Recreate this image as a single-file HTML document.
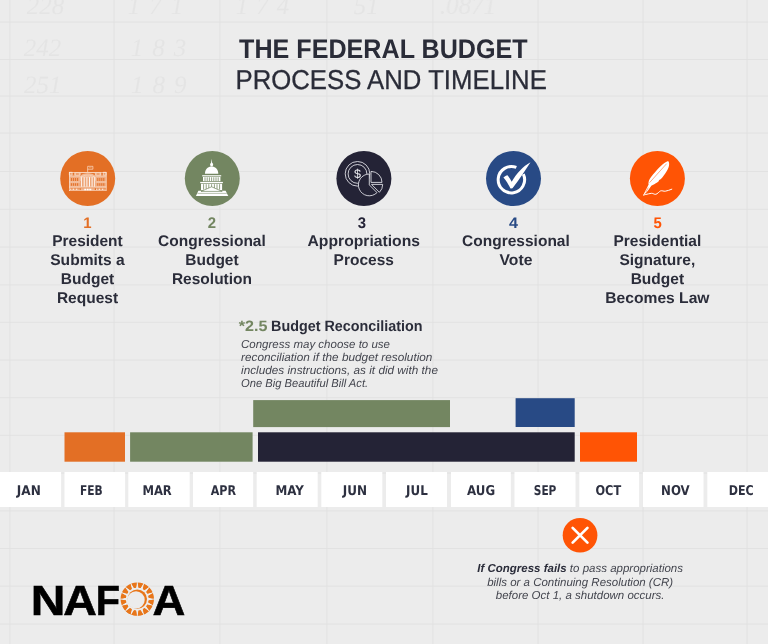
<!DOCTYPE html>
<html lang="en">
<head>
<meta charset="utf-8">
<title>The Federal Budget Process and Timeline</title>
<style>
html,body{margin:0;padding:0;background:#ececec;}
body{width:768px;height:644px;overflow:hidden;position:relative;font-family:"Liberation Sans",sans-serif;}
svg{position:absolute;left:0;top:0;display:block;}
text{font-family:"Liberation Sans",sans-serif;}
text:not([transform]){transform:matrix(1,0,0.0005,1,-0.16,0);}
.b{font-weight:bold;}
.i{font-style:italic;}
.lbl{font-weight:bold;font-size:15.5px;fill:#2b2d3a;text-anchor:middle;}
.num{font-weight:bold;font-size:15.3px;text-anchor:middle;}
.mon{font-family:"DejaVu Sans Condensed","DejaVu Sans","Liberation Sans",sans-serif;font-weight:bold;font-size:13.5px;fill:#2d3040;text-anchor:middle;}
#hand text{font-family:"Liberation Serif","DejaVu Serif",serif;font-style:italic;}
.note{font-style:italic;font-size:11.5px;fill:#44464f;}
</style>
</head>
<body>
<svg width="768" height="644" viewBox="0 0 768 644">
<rect width="768" height="644" fill="#ececec"/>
<!-- ledger grid -->
<g id="grid" stroke="#e0e0e0" stroke-width="0.8" fill="none">
<path d="M9.8 0V644M114.0 0V644M219.8 0V644M326.8 0V644M432.8 0V644M538.0 0V644M643.0 0V644M747.0 0V644"/>
<path d="M0 22.0H768M0 59.5H768M0 96.0H768M0 133.0H768M0 171.5H768M0 209.3H768M0 247.0H768M0 284.8H768M0 322.4H768M0 360.0H768M0 397.7H768M0 435.4H768M0 473.0H768M0 510.8H768M0 548.5H768M0 586.2H768M0 624.0H768"/>
</g>

<!-- faint ledger handwriting in the background -->
<g id="hand" font-size="25" fill="#e3e3e3" opacity="0.800">
<text x="27" y="14">228</text><text x="24" y="56">242</text><text x="24" y="93">251</text>
<text x="128" y="14" letter-spacing="9">171</text><text x="131" y="56" letter-spacing="9">183</text><text x="131" y="93" letter-spacing="9">189</text>
<text x="236" y="14" letter-spacing="8">174</text><text x="354" y="14">51</text><text x="440" y="14">.0871</text>
</g>

<!-- title -->
<text x="383.500" y="57.800" class="b" font-size="26.800" fill="#2a2c38" text-anchor="middle" textLength="288.600" lengthAdjust="spacingAndGlyphs">THE FEDERAL BUDGET</text>
<text x="391.300" y="88.800" font-size="27.200" fill="#2a2c38" stroke="#2a2c38" stroke-width="0.300" text-anchor="middle" textLength="311.400" lengthAdjust="spacingAndGlyphs">PROCESS AND TIMELINE</text>

<!-- icon circles -->
<circle cx="87.700" cy="178.500" r="27.500" fill="#e36f25"/>
<circle cx="212.300" cy="178.500" r="27.500" fill="#738661"/>
<circle cx="363.900" cy="178.500" r="27.500" fill="#242336"/>
<circle cx="513.500" cy="178.500" r="27.500" fill="#284a85"/>
<circle cx="657.400" cy="178.500" r="27.500" fill="#ff5405"/>


<!-- icon 1: white house -->
<g id="ic1">
<path d="M87.660 172V166.300H92.900V169.200H87.660" fill="none" stroke="#fff1e6" stroke-width="0.600"/>
<path d="M89 167.700H91.600" stroke="#fff1e6" stroke-width="0.500" opacity="0.700"/>
<!-- wings body -->
<rect x="69.300" y="176.300" width="10.700" height="11" fill="#ffffff" fill-opacity="0.420"/>
<rect x="95.500" y="176.300" width="10.700" height="11" fill="#ffffff" fill-opacity="0.420"/>
<path d="M71.00 178.10h1.10v2.80h-1.10zM73.00 178.10h1.10v2.80h-1.10zM75.00 178.10h1.10v2.80h-1.10zM77.00 178.10h1.10v2.80h-1.10zM71.00 183.20h1.10v2.60h-1.10zM73.00 183.20h1.10v2.60h-1.10zM75.00 183.20h1.10v2.60h-1.10zM77.00 183.20h1.10v2.60h-1.10zM97.20 178.10h1.10v2.80h-1.10zM99.20 178.10h1.10v2.80h-1.10zM101.20 178.10h1.10v2.80h-1.10zM103.20 178.10h1.10v2.80h-1.10zM97.20 183.20h1.10v2.60h-1.10zM99.20 183.20h1.10v2.60h-1.10zM101.20 183.20h1.10v2.60h-1.10zM103.20 183.20h1.10v2.60h-1.10z" fill="#e36f25" fill-opacity="0.900"/>
<!-- outline -->
<rect x="69.300" y="172.300" width="36.900" height="18.400" fill="none" stroke="#fff1e6" stroke-width="0.600"/>
<path d="M69.300 175.300H80.300M95.200 175.300H106.200M69.300 176.600H80M95.500 176.600H106.200M69.300 182H80M95.500 182H106.200M69.300 186.900H106.200M69.300 187.700H106.200" fill="none" stroke="#fff1e6" stroke-width="0.500"/>
<path d="M80.300 172.700H95.200" fill="none" stroke="#fff1e6" stroke-width="0.500"/>
<!-- towers -->
<path d="M69.300 172.200h3v3.100h-3zM74.600 172.700h5.700v2.600h-5.700zM95.200 172.700h5.800v2.600h-5.800zM103.200 172.200h3v3.100h-3z" fill="#ffffff" fill-opacity="0.550" stroke="#fff1e6" stroke-width="0.400"/>
<path d="M70.300 173.200h1v1.300h-1zM76 173.500h2.800v1.100H76zM96.700 173.500h2.800v1.100h-2.800zM104.200 173.200h1v1.300h-1z" fill="#e36f25" fill-opacity="0.800"/>
<!-- portico -->
<path d="M80.200 176.400C82.800 172.900 92.700 172.900 95.300 176.400V187H80.200Z" fill="#ffffff" fill-opacity="0.380"/>
<path d="M80.400 176.200C83 173 92.500 173 95.100 176.200M81.200 176.700C84 174.700 91.500 174.700 94.300 176.700" fill="none" stroke="#fff1e6" stroke-width="0.550"/>
<path d="M80.200 176.900H95.300" stroke="#fff1e6" stroke-width="0.600"/>
<path d="M81.400 177.200V186.700M84.200 177.200V186.700M86.900 177.200V186.700M89.500 177.200V186.700M92.100 177.200V186.700M94.700 177.200V186.700" stroke="#ffffff" stroke-width="0.900" fill="none"/>
<path d="M80.200 180.800V176.600M95.300 180.800V176.600" stroke="#fff1e6" stroke-width="0.500"/>
<!-- base -->
<path d="M70.200 189.200H79.400M96.200 189.200H105.400" stroke="#fff1e6" stroke-width="1.500" stroke-dasharray="0.900 0.550" fill="none"/>
<path d="M80.700 189.200H94.800" stroke="#ffffff" stroke-opacity="0.500" stroke-width="1.800" fill="none"/>
<path d="M84.300 189.400H86.300M87 189.400H88.600M89.300 189.400H91.300" stroke="#ffffff" stroke-width="1.500" fill="none"/>
</g>

<!-- icon 2: capitol -->
<g id="ic2" fill="#ffffff">
<path d="M211.600 158.700L212.200 163.200H211Z"/>
<ellipse cx="211.600" cy="164.600" rx="1.500" ry="1.900"/>
<path d="M204.900 173.700C205.200 164.200 218 164.200 218.300 173.700Z"/>
<path d="M202.200 175.200H221.200V176.400H202.200Z"/>
<path d="M203 177H220.400V181.200H203Z"/>
<path d="M200.200 181.900H222.900V183.200H200.200Z"/>
<path d="M201 183.800H222.100V190H201Z"/>
<path d="M198.400 190.700H225.600L228.300 196H195.900Z"/>
</g>
<g id="ic2d" stroke="#738661" stroke-width="0.800" fill="none">
<path d="M205 177.300V181.200M207.200 177.300V181.200M209.400 177.300V181.200M211.600 177.300V181.200M213.800 177.300V181.200M216 177.300V181.200M218.200 177.300V181.200"/>
<path d="M203.600 184.200V189.600M206.200 184.200V189.600M208.800 184.200V189.600M211.600 184.200V189.600M214.400 184.200V189.600M217 184.200V189.600M219.600 184.200V189.600"/>
<path d="M201 191.400L211.600 186.800L222.200 191.400Z" stroke-width="0.700" fill="#ffffff"/>
<path d="M197.500 193.400H226.800" stroke-width="0.500"/>
</g>

<!-- icon 3: coin and pie -->
<g id="ic3" fill="none" stroke="#e9e9ee" stroke-width="0.850">
<circle cx="357.500" cy="173.800" r="12.300"/>
<circle cx="357.500" cy="173.900" r="9.400"/>
<path d="M369.300 174V184.900L377 192.600A10.900 10.900 0 1 1 369.300 174Z" fill="#242336"/>
<path d="M371 171.400A11 11 0 0 1 382 182.400H371Z" fill="#242336"/>
<path d="M371.500 184.400H382.700A11.200 11.200 0 0 1 379.400 192.300Z" fill="#242336"/>
</g>
<text x="357.500" y="178.100" font-size="12.500" fill="#e9e9ee" text-anchor="middle">$</text>

<!-- icon 4: check -->
<g id="ic4">
<path d="M523.360 174.120A13.200 13.200 0 1 1 516.350 167.460" fill="none" stroke="#ffffff" stroke-width="3"/>
<path d="M503.400 177.500C504.800 176.300 506.200 175.500 507.500 175.300C509.200 177.300 510.600 179.500 511.700 181.700C516.500 173.500 523 166.200 530.500 162.200C525.500 169.500 519.500 179.300 512.500 188.300C511.700 188.500 511 188.500 510.300 188.200C508.500 184.400 506.200 180.600 503.400 177.500Z" fill="#ffffff"/>
</g>

<!-- icon 5: quill -->
<g id="ic5" fill="#ffffff">
<path d="M668.100 160.900C669.600 162.300 669.300 165.200 668.600 167.200C667.700 169.600 666 172.600 663.600 175.800C662.600 177.200 661.600 178.300 660.600 179.200L659.200 179.900L658.500 181.600C657.600 182.400 656.700 182.900 655.800 183.300C654.800 184 653.800 184.600 652.700 185L651.300 185.700C649.500 188.700 646.800 192.500 643.100 195.400C644.800 192 646.900 188 648.600 184.400C648.300 183.500 648.400 182.800 648.600 182C648.700 180.800 649.300 179.700 650 178.600C650.900 177.200 651.900 175.900 653 174.500C654.300 172.900 655.700 171.300 657.100 169.700C658.700 168 660.300 166.400 661.900 164.900C663.400 163.600 665 162 668.100 160.900Z"/>
<path d="M649.600 182.600L666.600 163.700" fill="none" stroke="#ff5405" stroke-width="0.500"/>
<path d="M648.300 187.500L645.800 192.200" fill="none" stroke="#ff5405" stroke-width="0.500"/>
<path d="M643.500 195.100C645 194.700 646.700 194.200 648.300 193.900C649.500 193.700 650.600 193.300 651.700 193.300C653.200 193.300 654.400 194.600 655.800 194.300C657.600 193.900 659 191.600 660.600 190.900C662.100 190.300 663.700 191.500 665.300 191.200C667.500 190.800 669.700 190 671.800 189.200" fill="none" stroke="#ffffff" stroke-width="1" stroke-linecap="round"/>
</g>

<!-- numbers -->
<text x="87.500" y="228" class="num" fill="#e36f25" textLength="8.3" lengthAdjust="spacingAndGlyphs">1</text>
<text x="212" y="228" class="num" fill="#738661" textLength="8.3" lengthAdjust="spacingAndGlyphs">2</text>
<text x="362" y="228" class="num" fill="#242336" textLength="8.3" lengthAdjust="spacingAndGlyphs">3</text>
<text x="513.500" y="228" class="num" fill="#284a85" textLength="9.0" lengthAdjust="spacingAndGlyphs">4</text>
<text x="657.800" y="228" class="num" fill="#ff5405" textLength="8.3" lengthAdjust="spacingAndGlyphs">5</text>

<!-- labels -->
<text x="87.500" y="246.300" class="lbl" textLength="70.6" lengthAdjust="spacingAndGlyphs">President</text>
<text x="87.500" y="265.200" class="lbl" textLength="74.5" lengthAdjust="spacingAndGlyphs">Submits a</text>
<text x="87.500" y="284" class="lbl" textLength="53.4" lengthAdjust="spacingAndGlyphs">Budget</text>
<text x="87.500" y="302.900" class="lbl" textLength="61.2" lengthAdjust="spacingAndGlyphs">Request</text>

<text x="212" y="246.300" class="lbl" textLength="107.7" lengthAdjust="spacingAndGlyphs">Congressional</text>
<text x="212" y="265.200" class="lbl" textLength="53.4" lengthAdjust="spacingAndGlyphs">Budget</text>
<text x="212" y="284" class="lbl" textLength="80.1" lengthAdjust="spacingAndGlyphs">Resolution</text>

<text x="363.800" y="246.300" class="lbl" textLength="112.5" lengthAdjust="spacingAndGlyphs">Appropriations</text>
<text x="363.800" y="265.200" class="lbl" textLength="60.3" lengthAdjust="spacingAndGlyphs">Process</text>

<text x="516" y="246.300" class="lbl" textLength="107.7" lengthAdjust="spacingAndGlyphs">Congressional</text>
<text x="516" y="265.200" class="lbl" textLength="32.8" lengthAdjust="spacingAndGlyphs">Vote</text>

<text x="657.400" y="246.300" class="lbl" textLength="87.9" lengthAdjust="spacingAndGlyphs">Presidential</text>
<text x="657.400" y="265.200" class="lbl" textLength="75.8" lengthAdjust="spacingAndGlyphs">Signature,</text>
<text x="657.400" y="284" class="lbl" textLength="53.4" lengthAdjust="spacingAndGlyphs">Budget</text>
<text x="657.400" y="302.900" class="lbl" textLength="104.3" lengthAdjust="spacingAndGlyphs">Becomes Law</text>

<!-- reconciliation -->
<text x="238.800" y="331.100" class="b" font-size="15" fill="#738661" textLength="28.700" lengthAdjust="spacingAndGlyphs">*2.5</text>
<text x="271" y="331.100" class="b" font-size="15" fill="#2b2d3a" textLength="151.600" lengthAdjust="spacingAndGlyphs">Budget Reconciliation</text>
<text x="241" y="348.400" class="note" textLength="149.0" lengthAdjust="spacingAndGlyphs">Congress may choose to use</text>
<text x="241" y="361.300" class="note" textLength="191.4" lengthAdjust="spacingAndGlyphs">reconciliation if the budget resolution</text>
<text x="241" y="374.300" class="note" textLength="196.9" lengthAdjust="spacingAndGlyphs">includes instructions, as it did with the</text>
<text x="241" y="387.200" class="note" textLength="127.1" lengthAdjust="spacingAndGlyphs">One Big Beautiful Bill Act.</text>

<!-- bars -->
<rect x="64.500" y="432.300" width="60.500" height="29.400" fill="#e36f25"/>
<rect x="130.100" y="432.300" width="122.500" height="29.400" fill="#738661"/>
<rect x="253.200" y="400.100" width="196.800" height="27" fill="#738661"/>
<rect x="258" y="432.300" width="316.700" height="29.400" fill="#242336"/>
<rect x="515.600" y="398.200" width="59.100" height="28.800" fill="#284a85"/>
<rect x="580" y="432.300" width="57" height="29.400" fill="#ff5405"/>

<!-- months -->
<g fill="#ffffff">
<rect x="0" y="472" width="61.100" height="35"/>
<rect x="64.500" y="472" width="60.600" height="35"/>
<rect x="128.300" y="472" width="61.400" height="35"/>
<rect x="193" y="472" width="60.200" height="35"/>
<rect x="256.700" y="472" width="61" height="35"/>
<rect x="321.300" y="472" width="61" height="35"/>
<rect x="386" y="472" width="61" height="35"/>
<rect x="451" y="472" width="59.800" height="35"/>
<rect x="514.500" y="472" width="61" height="35"/>
<rect x="579.300" y="472" width="59.800" height="35"/>
<rect x="642.800" y="472" width="60.700" height="35"/>
<rect x="707.300" y="472" width="61" height="35"/>
</g>
<text x="28.7" y="495" class="mon" textLength="24.0" lengthAdjust="spacingAndGlyphs">JAN</text>
<text x="91.3" y="495" class="mon" textLength="22.7" lengthAdjust="spacingAndGlyphs">FEB</text>
<text x="157.0" y="495" class="mon" textLength="29.4" lengthAdjust="spacingAndGlyphs">MAR</text>
<text x="223.3" y="495" class="mon" textLength="25.3" lengthAdjust="spacingAndGlyphs">APR</text>
<text x="289.5" y="495" class="mon" textLength="28.4" lengthAdjust="spacingAndGlyphs">MAY</text>
<text x="354.8" y="495" class="mon" textLength="24.3" lengthAdjust="spacingAndGlyphs">JUN</text>
<text x="416.8" y="495" class="mon" textLength="21.7" lengthAdjust="spacingAndGlyphs">JUL</text>
<text x="481.0" y="495" class="mon" textLength="28.0" lengthAdjust="spacingAndGlyphs">AUG</text>
<text x="545.0" y="495" class="mon" textLength="22.6" lengthAdjust="spacingAndGlyphs">SEP</text>
<text x="608.2" y="495" class="mon" textLength="25.7" lengthAdjust="spacingAndGlyphs">OCT</text>
<text x="675.3" y="495" class="mon" textLength="28.7" lengthAdjust="spacingAndGlyphs">NOV</text>
<text x="741.2" y="495" class="mon" textLength="25.0" lengthAdjust="spacingAndGlyphs">DEC</text>

<!-- shutdown -->
<circle cx="580.050" cy="535.250" r="17.350" fill="#ff5405"/>
<path d="M572.650 527.850L587.450 542.650M587.450 527.850L572.650 542.650" stroke="#fff" stroke-width="2.700" stroke-linecap="round"/>
<text x="580" y="572.500" class="note" text-anchor="middle"><tspan font-weight="bold" fill="#2b2d3a">If Congress fails</tspan> to pass appropriations</text>
<text x="580" y="586" class="note" text-anchor="middle">bills or a Continuing Resolution (CR)</text>
<text x="580" y="599" class="note" text-anchor="middle">before Oct 1, a shutdown occurs.</text>

<!-- logo -->
<g id="logo" font-weight="bold" font-size="42.700" fill="#000000" stroke="#000000" stroke-width="0.600" stroke-linejoin="miter">
<text transform="translate(33.900 614.700) scale(1.123 1)" x="-2.86" y="0">N</text>
<text transform="translate(64.500 614.700) scale(1.089 1)" x="-1.06" y="0">A</text>
<text transform="translate(98.300 614.700) scale(0.930 1)" x="-2.86" y="0">F</text>
<text transform="translate(153.700 614.700) scale(1.065 1)" x="-1.06" y="0">A</text>
</g>
<text x="119.82" y="614.59" font-weight="bold" font-size="45" fill="#e8761a">O</text>
<circle cx="137.300" cy="599.100" r="11.500" fill="#ececec"/>
<path d="M155.80 598.70L155.80 599.50L147.72 600.38L147.72 597.82ZM154.54 605.81L154.23 606.55L146.44 604.27L147.42 601.91ZM150.66 611.89L150.09 612.46L143.76 607.37L145.57 605.56ZM144.75 616.03L144.01 616.34L140.11 609.22L142.47 608.24ZM137.70 617.60L136.90 617.60L136.02 609.52L138.58 609.52ZM130.59 616.34L129.85 616.03L132.13 608.24L134.49 609.22ZM124.51 612.46L123.94 611.89L129.03 605.56L130.84 607.37ZM120.37 606.55L120.06 605.81L127.18 601.91L128.16 604.27ZM118.80 599.50L118.80 598.70L126.88 597.82L126.88 600.38ZM120.06 592.39L120.37 591.65L128.16 593.93L127.18 596.29ZM123.94 586.31L124.51 585.74L130.84 590.83L129.03 592.64ZM129.85 582.17L130.59 581.86L134.49 588.98L132.13 589.96ZM136.90 580.60L137.70 580.60L138.58 588.68L136.02 588.68ZM144.01 581.86L144.75 582.17L142.47 589.96L140.11 588.98ZM150.09 585.74L150.66 586.31L145.57 592.64L143.76 590.83ZM154.23 591.65L154.54 592.39L147.42 596.29L146.44 593.93Z" fill="#ececec"/>
<path d="M154.00 599.46A16.7 16.7 0 0 1 152.86 605.15L148.38 602.18L148.72 600.49ZM152.59 605.83A16.7 16.7 0 0 1 149.36 610.65L146.36 606.19L147.31 604.75ZM148.85 611.16A16.7 16.7 0 0 1 144.03 614.39L142.95 609.11L144.39 608.16ZM143.35 614.66A16.7 16.7 0 0 1 137.66 615.80L138.69 610.52L140.38 610.18ZM136.94 615.80A16.7 16.7 0 0 1 131.25 614.66L134.22 610.18L135.91 610.52ZM130.57 614.39A16.7 16.7 0 0 1 125.75 611.16L130.21 608.16L131.65 609.11ZM125.24 610.65A16.7 16.7 0 0 1 122.01 605.83L127.29 604.75L128.24 606.19ZM121.74 605.15A16.7 16.7 0 0 1 120.60 599.46L125.88 600.49L126.22 602.18ZM120.60 598.74A16.7 16.7 0 0 1 121.74 593.05L126.22 596.02L125.88 597.71ZM122.01 592.37A16.7 16.7 0 0 1 125.24 587.55L128.24 592.01L127.29 593.45ZM125.75 587.04A16.7 16.7 0 0 1 130.57 583.81L131.65 589.09L130.21 590.04ZM131.25 583.54A16.7 16.7 0 0 1 136.94 582.40L135.91 587.68L134.22 588.02ZM137.66 582.40A16.7 16.7 0 0 1 143.35 583.54L140.38 588.02L138.69 587.68ZM144.03 583.81A16.7 16.7 0 0 1 148.85 587.04L144.39 590.04L142.95 589.09ZM149.36 587.55A16.7 16.7 0 0 1 152.59 592.37L147.31 593.45L146.36 592.01ZM152.86 593.05A16.7 16.7 0 0 1 154.00 598.74L148.72 597.71L148.38 596.02Z" fill="#e8761a"/>
<circle cx="137.300" cy="599.100" r="9.700" fill="#e8761a"/>
<circle cx="136" cy="599.900" r="8.700" fill="#ececec"/>
</svg>
</body>
</html>
